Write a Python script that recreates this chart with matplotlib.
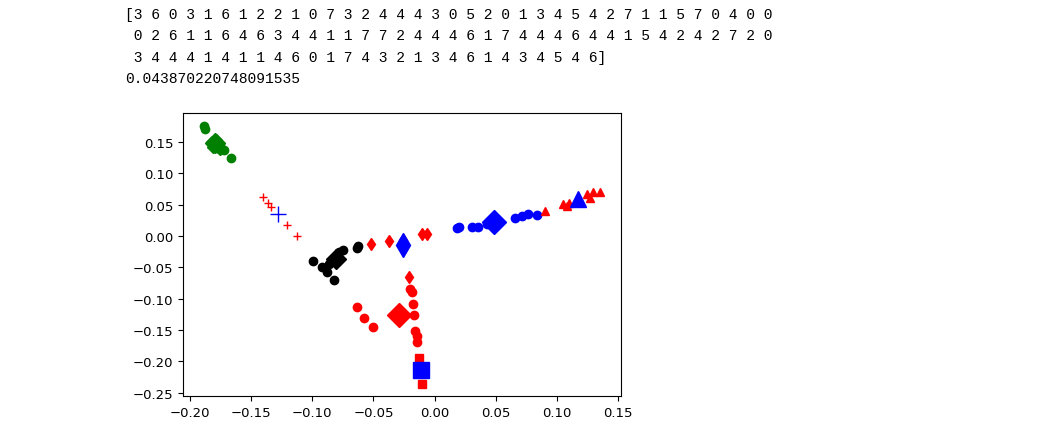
import matplotlib
matplotlib.use("Agg")
import matplotlib.pyplot as plt

labels_text = ["[3 6 0 3 1 6 1 2 2 1 0 7 3 2 4 4 4 3 0 5 2 0 1 3 4 5 4 2 7 1 1 5 7 0 4 0 0",
               " 0 2 6 1 1 6 4 6 3 4 4 1 1 7 7 2 4 4 4 6 1 7 4 4 4 6 4 4 1 5 4 2 4 2 7 2 0",
               " 3 4 4 4 1 4 1 1 4 6 0 1 7 4 3 2 1 3 4 6 1 4 3 4 5 4 6]",
               "0.043870220748091535"]

green_cx = [-0.1885, -0.1877, -0.1787, -0.1755, -0.1722, -0.1665]
green_cy = [0.1755, 0.1707, 0.150, 0.1452, 0.1373, 0.1245]
green_dx = [-0.182, -0.1804, -0.1787, -0.1771, -0.1755, -0.1812]
green_dy = [0.150, 0.1452, 0.1532, 0.1420, 0.1389, 0.1420]
green_big = (-0.1795, 0.1480)

red_px = [-0.1403, -0.1362, -0.1337, -0.1206, -0.1125]
red_py = [0.0624, 0.0529, 0.0465, 0.0179, 0.0004]
blue_plus = (-0.128, 0.0354)

black_x = [-0.0994, -0.0920, -0.0879, -0.0822, -0.0830, -0.0797, -0.0748, -0.0634, -0.0626, -0.0860, -0.0780]
black_y = [-0.0395, -0.0490, -0.0570, -0.0697, -0.0395, -0.0315, -0.0220, -0.0190, -0.0160, -0.0450, -0.0250]
black_big = (-0.0806, -0.0362)

red_dx = [-0.052, -0.0372, -0.0102, -0.0061, -0.0209, -0.0258]
red_dy = [-0.0124, -0.0076, 0.0036, 0.0036, -0.0649, -0.0060]
blue_dbig = (-0.0258, -0.0140)

red_cx = [-0.0201, -0.0185, -0.0177, -0.0169, -0.0160, -0.0144, -0.0144, -0.0634, -0.0577, -0.0503]
red_cy = [-0.0840, -0.0888, -0.1079, -0.1254, -0.1509, -0.1588, -0.1684, -0.1127, -0.1302, -0.1445]
red_big = (-0.029, -0.1254)

red_sx = [-0.0127, -0.0102]
red_sy = [-0.1939, -0.2353]
blue_sbig = (-0.011, -0.2130)

blue_cx = [0.0184, 0.0200, 0.0307, 0.0356, 0.0430, 0.0659, 0.0716, 0.0765, 0.0839]
blue_cy = [0.0131, 0.0150, 0.0147, 0.0147, 0.0195, 0.0290, 0.0322, 0.0354, 0.0338]
blue_dbig2 = (0.0487, 0.0227)

red_tx = [0.0904, 0.1051, 0.1084, 0.1100, 0.1247, 0.1270, 0.1297, 0.1354]
red_ty = [0.0402, 0.0513, 0.0481, 0.0530, 0.0672, 0.0600, 0.0704, 0.0704]
blue_tbig = (0.1174, 0.0593)

fig = plt.figure(figsize=(10.46, 4.27), dpi=100)
for i, t in enumerate(labels_text):
    fig.text(125/1046, 1 - (15 + 21.3*i)/427, t, family=['Liberation Mono', 'DejaVu Sans Mono'],
             fontsize=10.5, va='center', ha='left')

ax = fig.add_axes([183/1046, 1-397/427, 438/1046, 283/427])
ms = 6; MS = 12
ax.plot(green_cx, green_cy, 'o', color='green', ms=ms)
ax.plot(green_dx, green_dy, 'D', color='green', ms=ms)
ax.plot(*green_big, 'D', color='green', ms=MS-2)
ax.plot(red_px, red_py, '+', color='red', ms=ms)
ax.plot(*blue_plus, '+', color='blue', ms=MS)
ax.plot(black_x, black_y, 'o', color='black', ms=ms)
ax.plot(*black_big, 'D', color='black', ms=MS-2)
ax.plot(red_dx, red_dy, 'd', color='red', ms=ms)
ax.plot(*blue_dbig, 'd', color='blue', ms=MS)
ax.plot(red_cx, red_cy, 'o', color='red', ms=ms)
ax.plot(*red_big, 'D', color='red', ms=MS)
ax.plot(red_sx, red_sy, 's', color='red', ms=ms)
ax.plot(*blue_sbig, 's', color='blue', ms=MS)
ax.plot(blue_cx, blue_cy, 'o', color='blue', ms=ms)
ax.plot(*blue_dbig2, 'D', color='blue', ms=MS)
ax.plot(red_tx, red_ty, '^', color='red', ms=ms)
ax.plot(*blue_tbig, '^', color='blue', ms=MS)

ax.set_xlim(-0.2057, 0.1525)
ax.set_ylim(-0.255, 0.196)
ax.set_xticks([-0.20, -0.15, -0.10, -0.05, 0.00, 0.05, 0.10, 0.15])
ax.set_yticks([-0.25, -0.20, -0.15, -0.10, -0.05, 0.00, 0.05, 0.10, 0.15])
ax.tick_params(labelsize=9.5)
fig.savefig("out.png", dpi=100)
